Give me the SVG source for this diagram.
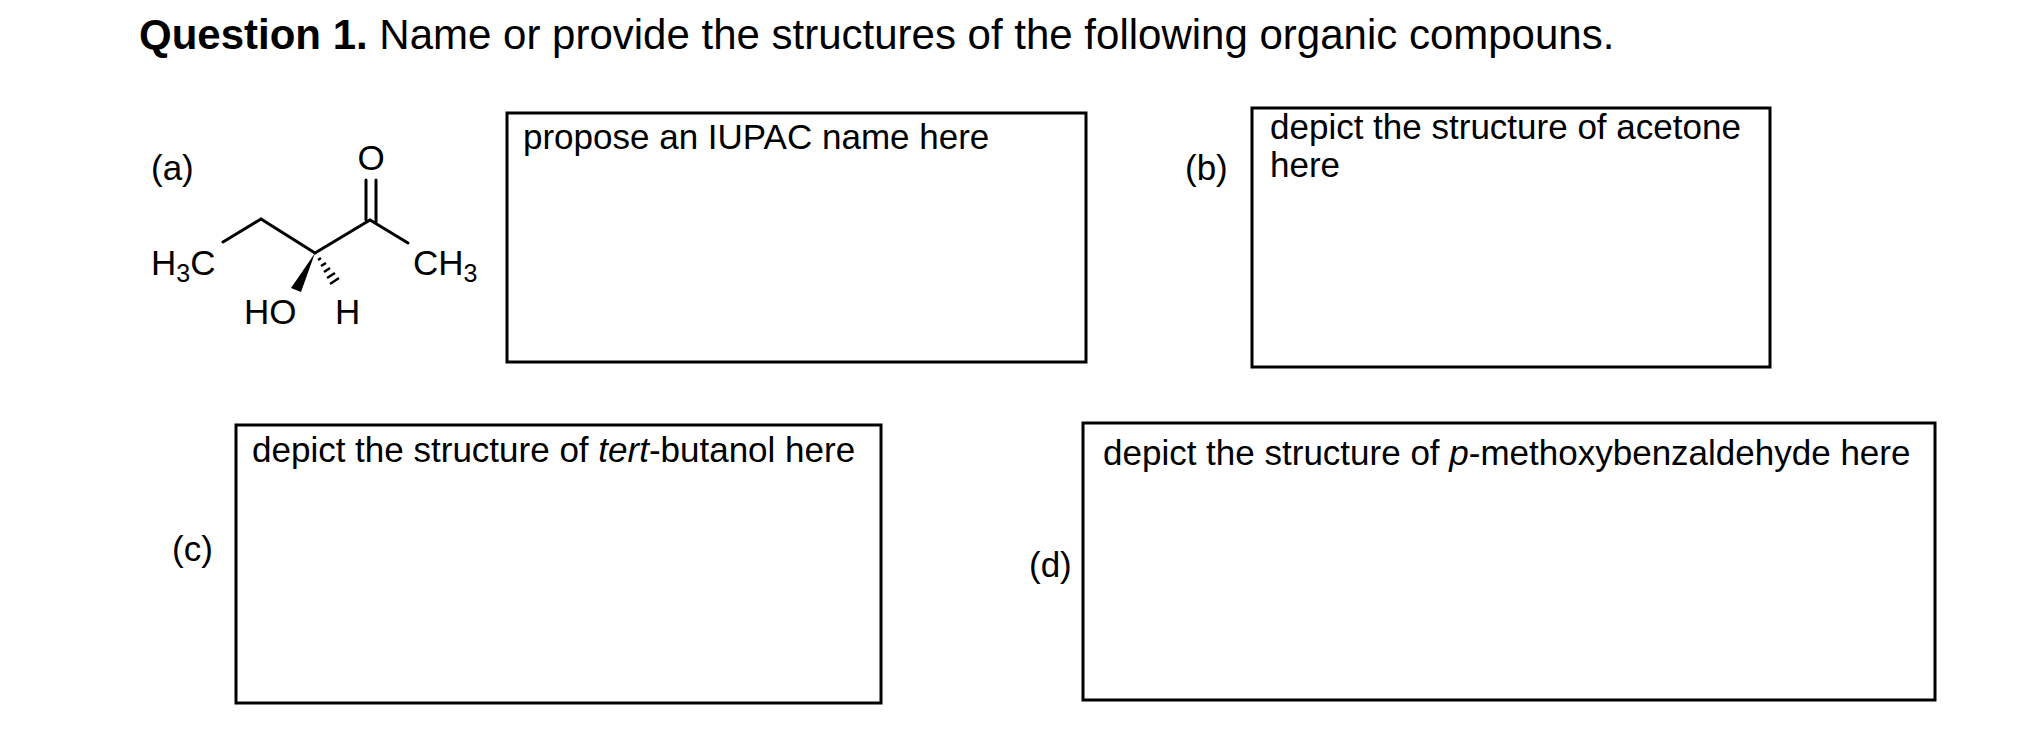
<svg xmlns="http://www.w3.org/2000/svg" width="2026" height="744" viewBox="0 0 2026 744">
<style>
text{font-family:"Liberation Sans",Arial,sans-serif;fill:#000}
.t{font-size:35px}
.m{font-size:35px}
.box{fill:none;stroke:#000;stroke-width:3}
.b{stroke:#000;stroke-width:3;fill:none;stroke-linecap:round}
</style>
<rect width="2026" height="744" fill="#fff"/>
<text x="139" y="49" font-size="42"><tspan font-weight="bold">Question 1.</tspan> Name or provide the structures of the following organic compouns.</text>
<g id="a">
<text class="t" x="151" y="180">(a)</text>
<g id="molecule">
<g class="b">
<line x1="223" y1="242" x2="261" y2="219"/>
<line x1="261" y1="219" x2="315" y2="253"/>
<line x1="315" y1="253" x2="370" y2="220"/>
<line x1="370" y1="220" x2="408" y2="243"/>
<line x1="366" y1="220" x2="366" y2="180"/>
<line x1="376" y1="222" x2="376" y2="180"/>
</g>
<polygon points="315,253 291,288 301,292" fill="#000"/>
<g stroke="#000" stroke-width="2.5">
<line x1="318" y1="260" x2="321" y2="258"/>
<line x1="321" y1="266" x2="326" y2="263"/>
<line x1="324" y1="272" x2="330" y2="268"/>
<line x1="327" y1="278" x2="335" y2="273"/>
<line x1="330" y1="284" x2="339" y2="278"/>
</g>
<text class="m" x="151" y="275">H<tspan font-size="25" dy="7">3</tspan><tspan dy="-7">C</tspan></text>
<text class="m" x="413" y="275">CH<tspan font-size="25" dy="7">3</tspan></text>
<text class="m" x="371" y="170" text-anchor="middle">O</text>
<text class="m" x="244" y="324">HO</text>
<text class="m" x="335" y="324">H</text>
</g>
<rect class="box" x="507" y="113" width="579" height="249"/>
<text class="t" x="523" y="149">propose an IUPAC name here</text>
</g>
<g id="b">
<text class="t" x="1185" y="180">(b)</text>
<rect class="box" x="1252" y="108" width="518" height="259"/>
<text class="t" x="1270" y="139">depict the structure of acetone</text>
<text class="t" x="1270" y="177">here</text>
</g>
<g id="c">
<text class="t" x="172" y="561">(c)</text>
<rect class="box" x="236" y="425" width="645" height="278"/>
<text class="t" x="252" y="462">depict the structure of <tspan font-style="italic">tert</tspan>-butanol here</text>
</g>
<g id="d">
<text class="t" x="1029" y="577">(d)</text>
<rect class="box" x="1083" y="423" width="852" height="277"/>
<text class="t" x="1103" y="465">depict the structure of <tspan font-style="italic">p</tspan>-methoxybenzaldehyde here</text>
</g>
</svg>
